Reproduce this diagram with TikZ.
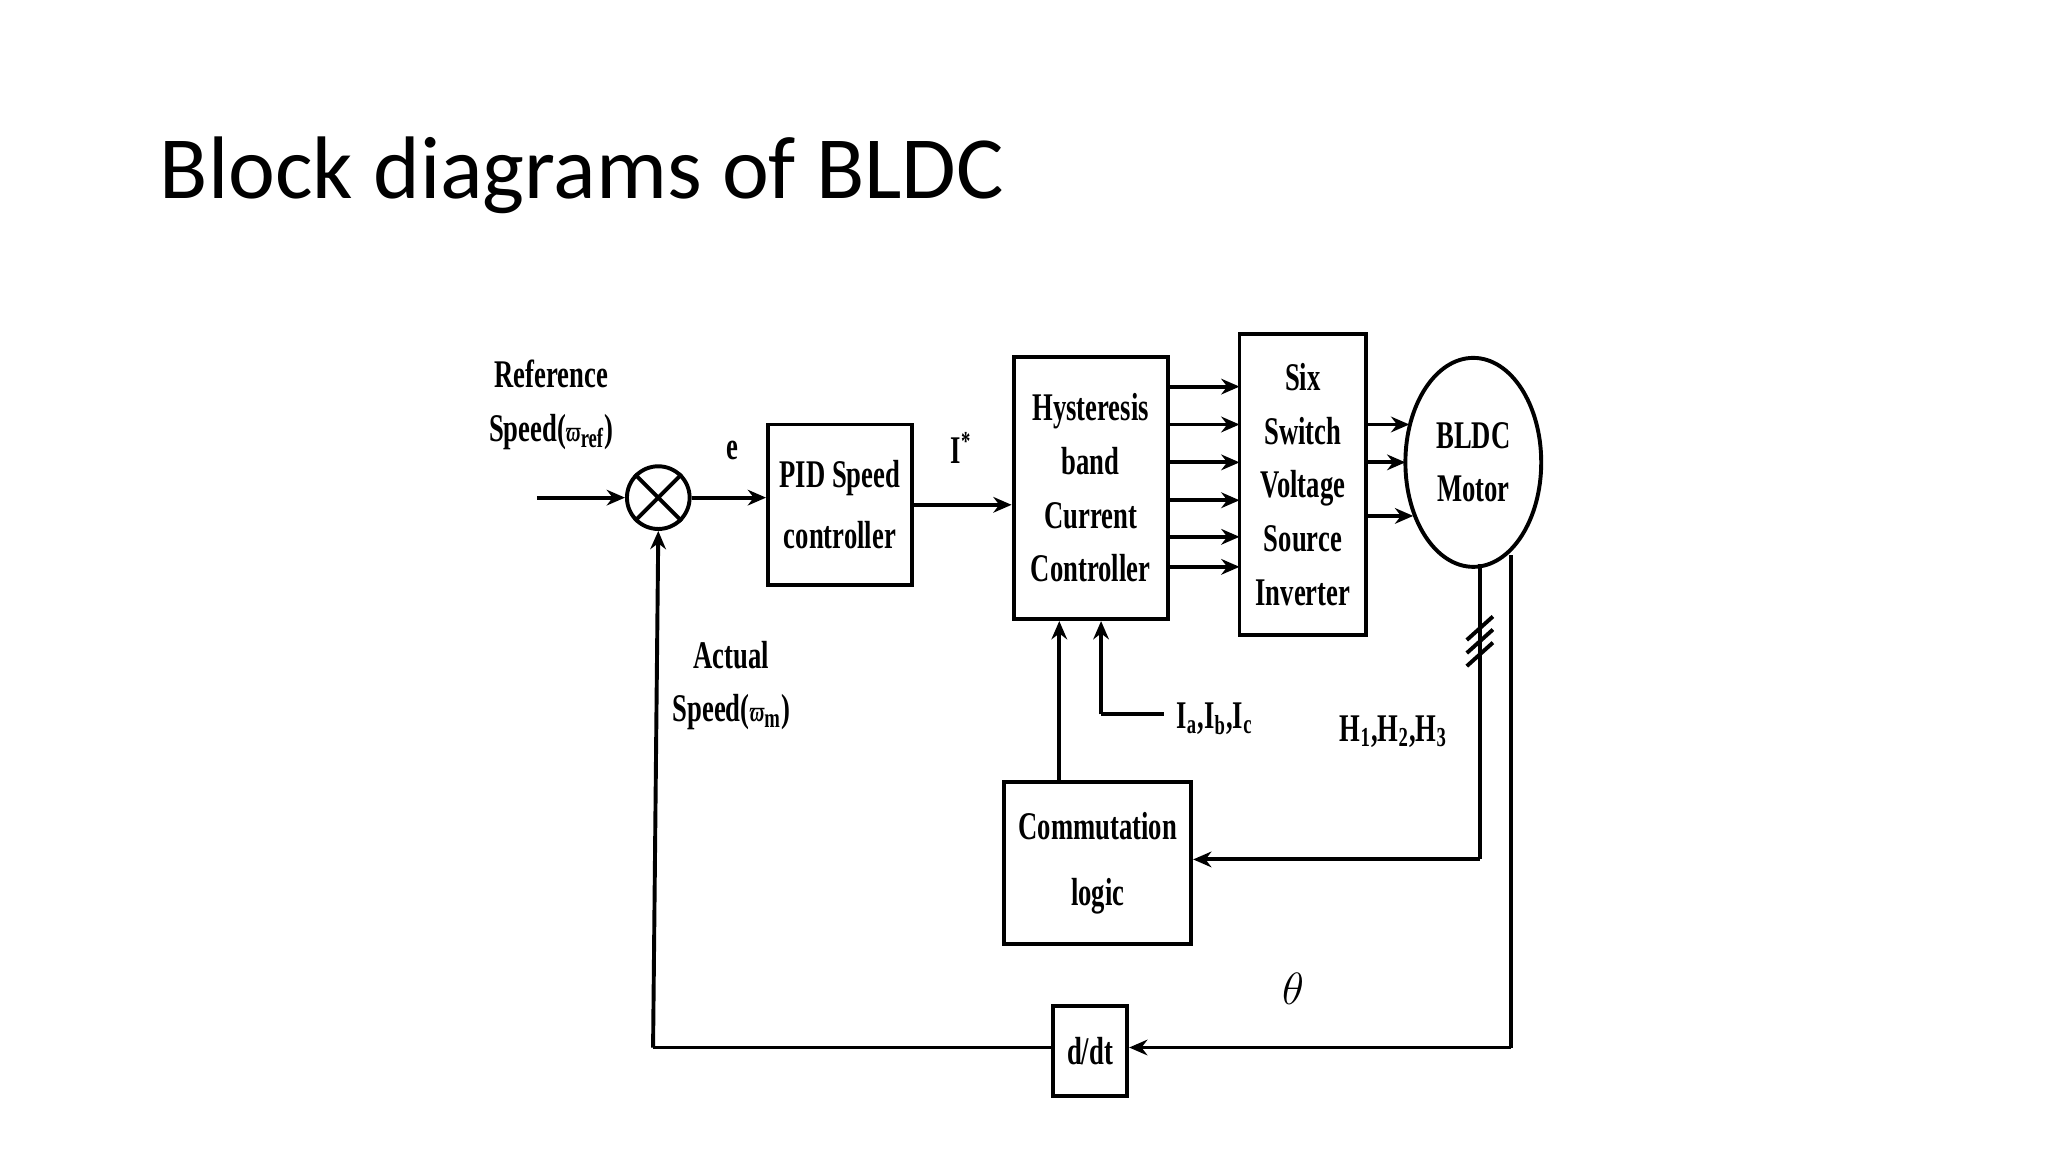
\documentclass[tikz,border=0pt]{standalone}
\usepackage{fontspec}
\setmainfont{Carlito}
\newfontfamily\dfont[FakeStretch=0.68]{Liberation Serif}
\usetikzlibrary{arrows.meta,shapes.geometric}
\begin{document}
\begin{tikzpicture}[x=0.5pt,y=-0.5pt,
  blk/.style={draw,line width=1.5pt,inner sep=0},
  lab/.style={font=\dfont\bfseries\fontsize{15}{20.5}\selectfont,align=center,inner sep=0},
  ln/.style={line width=1.5pt},
  ar/.style={ln,-{Stealth[length=7pt,width=6pt]}}]
\useasboundingbox (0,0) rectangle (1568,882);
\node[anchor=base west,inner sep=0,font=\fontsize{34}{40}\selectfont] (title) at (122,152) {Block diagrams of BLDC};
% sum
\node[blk,circle,minimum size=24pt] (sum) at (504,381) {};
\draw[ln] (sum.north west)--(sum.south east) (sum.north east)--(sum.south west);
\coordinate (in) at (411,381);
\draw[ar] (in)--(sum);
\node[lab] (ref) at (422,310) {Reference\\Speed({\itshape\fontsize{11}{12}\selectfont ϖ}\textsubscript{ref})};
% PID
\node[blk,minimum width=55pt,minimum height=61.5pt,lab] (pid) at (643,386.5) {PID Speed\\[3pt]controller};
\draw[ar] (sum.east)--(pid.west|-sum.east);
\node[lab] (e) at (561,345) {e};
% Hysteresis
\node[blk,minimum width=59pt,minimum height=100.5pt,lab] (hys) at (835,373.5) {Hysteresis\\band\\Current\\Controller};
\coordinate (pr) at (698,381);
\draw[ar] (pid.east)--(hys.west|-pid.east);
\node[lab] (is) at (736,343) {I\textsuperscript{*}};
% Inverter
\node[blk,minimum width=48.5pt,minimum height=115pt,lab] (inv) at (997.5,371) {Six\\Switch\\Voltage\\Source\\Inverter};
\foreach \y in {296,325,354,383,411,434} \draw[ar] (894,\y)--(949,\y);
% motor
\node[blk,ellipse,minimum width=52pt,minimum height=80pt,lab] (mot) at (1128,354) {BLDC\\Motor};
\coordinate (m1) at (1079,325); \coordinate (m2) at (1076,354); \coordinate (m3) at (1082,395);
\draw[ar] (inv.east|-m1)--(m1);
\draw[ar] (inv.east|-m2)--(m2);
\draw[ar] (inv.east|-m3)--(m3);
% commutation
\node[blk,minimum width=71.5pt,minimum height=62pt,lab] (com) at (840.5,661) {Commutation\\[5pt]logic};
\coordinate (h0) at (1133,432); \coordinate (h1) at (1133,658);
\draw[ln] (h0)--(h1);
\draw[ar] (h1)--(com.east|-h1);
\foreach \d in {0,10,20} \draw[ln] (1123,490+\d)--(1143,472+\d);
\node[lab] (hh) at (1067,560) {H\textsubscript{1},H\textsubscript{2},H\textsubscript{3}};
\draw[ar] (com.north-|811,0)--(hys.south-|811,0);
% currents
\coordinate (c0) at (891,547); \coordinate (c1) at (843,547);
\draw[ln] (c0)--(c1);
\draw[ar] (c1)--(hys.south-|c1);
\node[lab] (iabc) at (930,550) {I\textsubscript{a},I\textsubscript{b},I\textsubscript{c}};
% d/dt
\node[blk,minimum width=28.5pt,minimum height=34.5pt,lab] (ddt) at (834.5,804.5) {d/dt};
\coordinate (t0) at (1157,425); \coordinate (t1) at (1157,802);
\draw[ln] (t0)--(t1);
\draw[ar] (t1)--(ddt.east|-t1);
\node[lab,font=\fontsize{18}{20}\selectfont] (th) at (990,757) {$\theta$};
\coordinate (f1) at (500,802);
\draw[ln] (ddt.west|-f1)--(f1);
\draw[ar] (f1)--(sum.south);
\node[lab] (act) at (560,525) {Actual\\Speed({\itshape\fontsize{11}{12}\selectfont ϖ}\textsubscript{m})};
\end{tikzpicture}
\end{document}
